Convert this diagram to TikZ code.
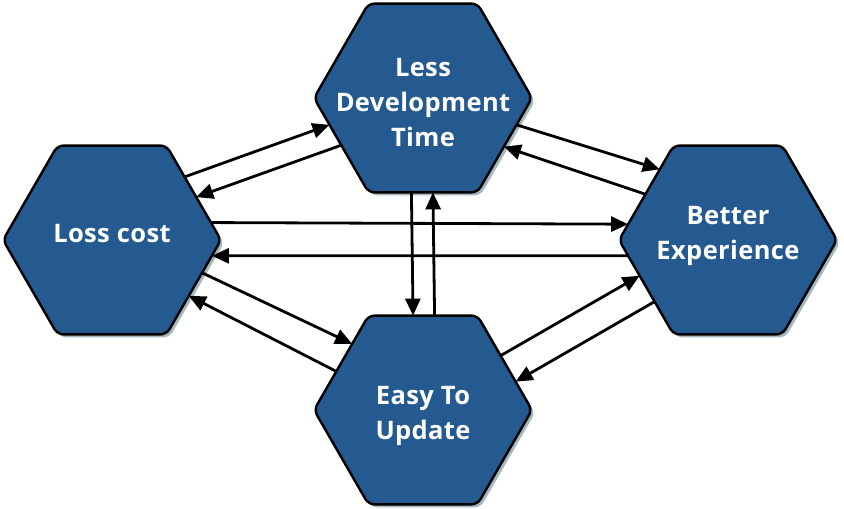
\documentclass[tikz,border=0pt]{standalone}
\usepackage{fontspec}
\setmainfont{Open Sans}[LetterSpace=1.5]
\usetikzlibrary{shapes.geometric,arrows.meta,shadows}
\definecolor{hexblue}{RGB}{36,90,143}
\definecolor{shadowc}{RGB}{165,182,188}
\begin{document}
\begin{tikzpicture}[x=1pt,y=-1pt,
  hexnode/.style={regular polygon, regular polygon sides=6, minimum size=218pt,
    inner sep=0pt, outer sep=0pt, fill=hexblue, draw=black, line width=2.4pt,
    rounded corners=6pt,
    drop shadow={fill=shadowc, opacity=1, shadow xshift=3pt, shadow yshift=-3pt}},
  txt/.style={text=white, align=center, inner sep=0pt,
    font=\bfseries\fontsize{25.5}{35}\selectfont},
  arr/.style={-{Triangle[length=17pt,width=15pt]}, line width=2.8pt, black}]
\useasboundingbox (0,0) rectangle (844,509);
\node[hexnode] (T) at (423,98) {};
\node[hexnode] (L) at (112,240) {};
\node[hexnode] (R) at (728,240) {};
\node[hexnode] (B) at (423,410) {};
\node[txt] (Tt) at (423,103) {Less\\Development\\Time};
\node[txt] (Lt) at (112,234) {Loss cost};
\node[txt] (Rt) at (728,236) {Better\\Experience};
\node[txt] (Bt) at (423,416) {Easy To\\Update};
% left <-> top
\draw[arr] (L.41.8) -- (T.196.8);
\draw[arr] (T.210.2) -- (L.27.6);
% left <-> right
\draw[arr] (L.10.1) -- (R.171.9);
\draw[arr] (R.189) -- (L.351.7);
% left <-> bottom
\draw[arr] (L.340.5) -- (B.137);
\draw[arr] (B.156) -- (L.324);
% top <-> bottom
\draw[arr] (T.263.5) -- (B.96.5);
\draw[arr] (B.83.5) -- (T.276.5);
% top <-> right
\draw[arr] (T.344.2) -- (R.134.2);
\draw[arr] (R.151.3) -- (T.329.2);
% bottom <-> right
\draw[arr] (B.35.9) -- (R.202.9);
\draw[arr] (R.220) -- (B.17.5);
\end{tikzpicture}
\end{document}
